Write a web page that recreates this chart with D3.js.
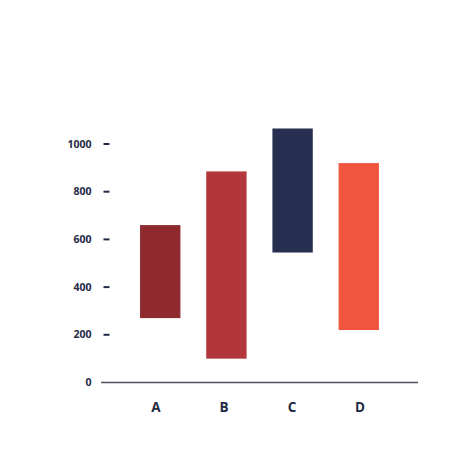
<!DOCTYPE html>
<html>
<head>
<meta charset="utf-8">
<script src="https://cdn.jsdelivr.net/npm/d3@7"></script>
<style>
  body { margin: 0; background: #fff; }
  #chart { width: 474px; height: 474px; }
  text { font-family: "Open Sans", "DejaVu Sans", sans-serif; font-weight: 700; fill: #232a45; }
</style>
</head>
<body>
<div id="chart"></div>
<script>
// floating bars: low / high per category
const categories = ["A", "B", "C", "D"];
const lowValues = [270, 100, 545, 220];
const highValues = [660, 885, 1065, 920];
const barColors = ["#8e2a2e", "#b3373a", "#262f4f", "#f0563e"];
const tickValues = [0, 200, 400, 600, 800, 1000];

const width = 474, height = 474;
const margin = {top: 144, right: 56, bottom: 92, left: 101};

const svg = d3.select("#chart").append("svg")
    .attr("width", width)
    .attr("height", height);

const x = d3.scaleBand()
    .domain(categories)
    .range([margin.left, width - margin.right])
    .paddingInner(0.39)
    .paddingOuter(0.59);

// the category labels sit on a slightly different spacing than the bars
const xLabel = d3.scalePoint()
    .domain(categories)
    .range([156, 360]);

const y = d3.scaleLinear()
    .domain([0, 1000])
    .range([height - margin.bottom + 0.5, margin.top]);

const data = categories.map((c, i) => ({cat: c, low: lowValues[i], high: highValues[i], color: barColors[i]}));

// bars
svg.selectAll("rect.bar")
    .data(data)
    .enter().append("rect")
    .attr("class", "bar")
    .attr("x", d => x(d.cat))
    .attr("width", x.bandwidth())
    .attr("y", d => y(d.high))
    .attr("height", d => y(d.low) - y(d.high))
    .attr("fill", d => d.color);

// y axis: labels + short dashes (no dash for 0)
const yAxis = svg.append("g");
yAxis.selectAll("text")
    .data(tickValues)
    .enter().append("text")
    .attr("x", 91.5)
    .attr("y", d => y(d))
    .attr("dy", "0.35em")
    .attr("text-anchor", "end")
    .style("font-size", "10.5px")
    .text(d => d);

yAxis.selectAll("line")
    .data(tickValues.filter(d => d > 0))
    .enter().append("line")
    .attr("x1", 103.5)
    .attr("x2", 109.5)
    .attr("y1", d => y(d))
    .attr("y2", d => y(d))
    .attr("stroke", "#232a45")
    .attr("stroke-width", 2);

// x baseline
svg.append("line")
    .attr("x1", margin.left)
    .attr("x2", width - margin.right)
    .attr("y1", y(0))
    .attr("y2", y(0))
    .attr("stroke", "#4b505c")
    .attr("stroke-width", 1.5);

// category labels
svg.selectAll("text.cat")
    .data(categories)
    .enter().append("text")
    .attr("class", "cat")
    .attr("x", d => xLabel(d))
    .attr("y", 407)
    .attr("dy", "0.35em")
    .attr("text-anchor", "middle")
    .style("font-size", "13.5px")
    .text(d => d);
</script>
</body>
</html>
